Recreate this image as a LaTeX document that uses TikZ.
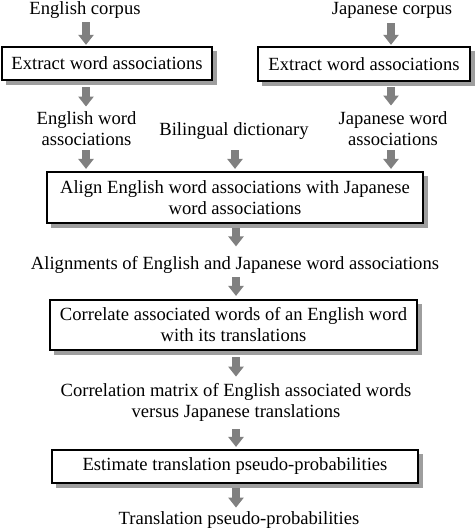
\documentclass[tikz,border=0pt]{standalone}
\usepackage{fontspec}
\setmainfont{Liberation Serif}
\usetikzlibrary{arrows.meta}
\begin{document}
\begin{tikzpicture}[x=1pt,y=-1pt,
  every node/.style={font=\fontsize{18.6}{21}\selectfont, inner sep=0pt},
  lbl/.style={align=center},
  procbox/.style={draw=black, line width=1.3pt, fill=white, align=center},
  boxshadow/.style={fill=black!38},
  flow/.style={draw=black!50, line width=7.5pt, -{Triangle[width=15pt,length=10pt]}}
]
\useasboundingbox (0,0) rectangle (474,529);
\coordinate (colL) at (86,0);
\coordinate (colM) at (235,0);
\coordinate (colR) at (391,0);
\coordinate (colC) at (236,0);

\node[anchor=base] (ec) at (85,15) {English corpus};
\node[anchor=base] (jc) at (392,15) {Japanese corpus};
\node[procbox, minimum width=210pt, minimum height=33pt] (box1) at (107,63.5) {Extract word associations};
\node[procbox, minimum width=212pt, minimum height=34pt] (box2) at (364,64) {Extract word associations};
\node[lbl] (ewa) at (86.5,128.6) {English word\\associations};
\node[anchor=base] (bd) at (234,136) {Bilingual dictionary};
\node[lbl] (jwa) at (393,128.6) {Japanese word\\associations};
\node[procbox, minimum width=376pt, minimum height=51pt] (align) at (235,197.5) {Align English word associations with Japanese\\word associations};
\node[anchor=base] (alm) at (235,269) {Alignments of English and Japanese word associations};
\node[procbox, minimum width=367pt, minimum height=50pt] (corr) at (233.5,325) {Correlate associated words of an English word\\with its translations};
\node[lbl] (mat) at (236,402.85) {Correlation matrix of English associated words\\versus Japanese translations};
\node[procbox, minimum width=366pt, minimum height=33pt] (est) at (235,466.5) {Estimate translation pseudo-probabilities};
\node[anchor=base] (tr) at (239,524.3) {Translation pseudo-probabilities};

\foreach \bx in {box1,box2,align,corr,est}{
  \fill[boxshadow] (\bx.south east) rectangle ([xshift=4.5pt,yshift=-4.5pt]\bx.north east);
  \fill[boxshadow] ([xshift=4.5pt]\bx.south west) rectangle ([xshift=4.5pt,yshift=-4.5pt]\bx.south east);
}

\draw[flow, shorten <=3pt, shorten >=1.5pt] (ec.south -| colL) -- (box1.north -| colL);
\draw[flow, shorten <=6.4pt, shorten >=4.8pt] (box1.south -| colL) -- (ewa.north -| colL);
\draw[flow, shorten <=4.3pt, shorten >=2.4pt] (ewa.south -| colL) -- (align.north -| colL);
\draw[flow, shorten <=4pt, shorten >=1.5pt] (jc.south -| colR) -- (box2.north -| colR);
\draw[flow, shorten <=5.4pt, shorten >=5.8pt] (box2.south -| colR) -- (jwa.north -| colR);
\draw[flow, shorten <=4.3pt, shorten >=2.4pt] (jwa.south -| colR) -- (align.north -| colR);
\draw[flow, shorten <=10pt, shorten >=2.4pt] (bd.south -| colM) -- (align.north -| colM);
\draw[flow, shorten <=4.4pt, shorten >=9.3pt] (align.south -| colC) -- (alm.north -| colC);
\draw[flow, shorten <=4pt, shorten >=3.4pt] (alm.south -| colC) -- (corr.north -| colC);
\draw[flow, shorten <=6.4pt, shorten >=7pt] (corr.south -| colC) -- (mat.north -| colC);
\draw[flow, shorten <=7.3pt, shorten >=2.4pt] (mat.south -| colC) -- (est.north -| colC);
\draw[flow, shorten <=4.4pt, shorten >=3.6pt] (est.south -| colC) -- (tr.north -| colC);
\end{tikzpicture}
\end{document}
